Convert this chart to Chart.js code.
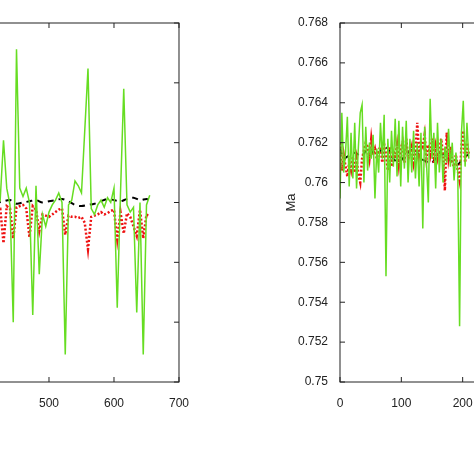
<!DOCTYPE html><html><head><script src="https://cdn.jsdelivr.net/npm/chart.js@4"></script>
<style>body{margin:0;width:474px;height:474px;overflow:hidden;background:#fff;position:relative}canvas{position:absolute}</style></head><body>
<div id="l" style="position:absolute;left:-56px;top:0;width:251px;height:420px"><canvas id="c1"></canvas></div>
<div id="r" style="position:absolute;left:280px;top:0;width:260px;height:420px"><canvas id="c2"></canvas></div>
<script>
const leftGreenX=[400,405,410,415,420,425,430,435,440,445,450,455,460,465,470,475,480,485,490,495,500,505,510,515,520,525,530,535,540,545,550,555,560,565,570,575,580,585,590,595,600,605,610,615,620,625,630,635,640,645,650,655];
const leftGreen=[0.7608,0.7602,0.7615,0.7598,0.7610,0.7603,0.7652,0.7612,0.7598,0.7500,0.7728,0.7612,0.7605,0.7612,0.7600,0.7506,0.7614,0.7540,0.7590,0.7580,0.7592,0.7598,0.7602,0.7608,0.7600,0.7473,0.7598,0.7602,0.7618,0.7614,0.7608,0.7660,0.7712,0.7595,0.7590,0.7598,0.7602,0.7596,0.7604,0.7600,0.7612,0.7512,0.7608,0.7695,0.7598,0.7592,0.7596,0.7508,0.7600,0.7473,0.7598,0.7606];
const leftRed=[0.7596,0.7594,0.7597,0.7570,0.7596,0.7595,0.7566,0.7597,0.7595,0.7570,0.7596,0.7597,0.7598,0.7595,0.7571,0.7597,0.7594,0.7576,0.7590,0.7589,0.7588,0.7590,0.7592,0.7594,0.7595,0.7573,0.7589,0.7588,0.7588,0.7587,0.7588,0.7583,0.7561,0.7588,0.7589,0.7590,0.7592,0.7590,0.7591,0.7593,0.7594,0.7569,0.7592,0.7574,0.7591,0.7588,0.7580,0.7572,0.7594,0.7570,0.7590,0.7588];
const leftBlackX=[400,410,420,430,440,450,460,470,480,490,500,510,520,530,540,550,560,570,580,590,600,610,620,630,640,650,655];
const leftBlack=[0.7602,0.7601,0.7600,0.7601,0.7602,0.7599,0.7600,0.7601,0.7602,0.7600,0.7601,0.7602,0.7603,0.7601,0.7598,0.7597,0.7598,0.7599,0.7601,0.7603,0.7602,0.7601,0.7603,0.7604,0.7602,0.7603,0.7602];
const rightX=[0,3,6,9,12,15,18,21,24,27,30,33,36,39,42,45,48,51,54,57,60,63,66,69,72,75,78,81,84,87,90,93,96,99,102,105,108,111,114,117,120,123,126,129,132,135,138,141,144,147,150,153,156,159,162,165,168,171,174,177,180,183,186,189,192,195,198,201,204,207,210];
const rightGreen=[0.7592,0.7635,0.7605,0.7615,0.7633,0.7598,0.7625,0.7602,0.7630,0.7597,0.7618,0.7635,0.7639,0.7600,0.7628,0.7606,0.7620,0.7612,0.7624,0.7592,0.7617,0.7605,0.7630,0.7612,0.7634,0.7553,0.7622,0.7600,0.7626,0.7608,0.7632,0.7603,0.7631,0.7598,0.7628,0.7607,0.7631,0.7600,0.7622,0.7605,0.7626,0.7602,0.7620,0.7598,0.7625,0.7577,0.7628,0.7610,0.7590,0.7642,0.7612,0.7625,0.7597,0.7630,0.7605,0.7622,0.7600,0.7618,0.7610,0.7627,0.7608,0.7620,0.7601,0.7615,0.7605,0.7528,0.7625,0.7641,0.7608,0.7630,0.7612];
const rightRed=[0.7620,0.7606,0.7614,0.7608,0.7603,0.7610,0.7606,0.7613,0.7605,0.7612,0.7604,0.7600,0.7612,0.7616,0.7620,0.7618,0.7612,0.7622,0.7614,0.7617,0.7612,0.7616,0.7618,0.7610,0.7619,0.7614,0.7606,0.7618,0.7608,0.7616,0.7612,0.7619,0.7609,0.7617,0.7620,0.7610,0.7622,0.7612,0.7614,0.7618,0.7610,0.7616,0.7630,0.7614,0.7620,0.7618,0.7624,0.7612,0.7619,0.7614,0.7622,0.7610,0.7618,0.7612,0.7616,0.7622,0.7614,0.7596,0.7625,0.7612,0.7618,0.7610,0.7608,0.7614,0.7606,0.7601,0.7618,0.7626,0.7610,0.7620,0.7614];
const rightBlackX=[0,6,12,18,24,30,36,42,48,54,60,66,72,78,84,90,96,102,108,114,120,126,132,138,144,150,156,162,168,174,180,186,192,198,204,210];
const rightBlack=[0.7617,0.7612,0.7613,0.7614,0.7615,0.7614,0.7613,0.7616,0.7617,0.7615,0.7614,0.7616,0.7618,0.7617,0.7613,0.7611,0.7610,0.7612,0.7614,0.7616,0.7617,0.7615,0.7612,0.7611,0.7610,0.7610,0.7612,0.7615,0.7614,0.7613,0.7611,0.7610,0.7609,0.7611,0.7613,0.7614];
const leftXTicks=[400,500,600,700];
const rightYTicks=[0.75,0.752,0.754,0.756,0.758,0.76,0.762,0.764,0.766,0.768];
const pts=(xs,ys)=>xs.map((x,i)=>({x,y:ys[i]}));
const frame={id:'frame',afterDraw(c){const a=c.chartArea,g=c.ctx;g.save();g.strokeStyle='#222';g.lineWidth=1;g.strokeRect(a.left,a.top,a.right-a.left,a.bottom-a.top);
 const xs=c.scales.x,ys=c.scales.y;g.beginPath();
 xs.ticks.forEach(t=>{const p=xs.getPixelForValue(t.value);g.moveTo(p,a.bottom);g.lineTo(p,a.bottom-5);g.moveTo(p,a.top);g.lineTo(p,a.top+5);});
 ys.ticks.forEach(t=>{const p=ys.getPixelForValue(t.value);g.moveTo(a.left,p);g.lineTo(a.left+5,p);g.moveTo(a.right,p);g.lineTo(a.right-5,p);});
 g.stroke();g.restore();}};
function ds(g,r,b){return [
 {data:g,borderColor:'#66dd22',borderWidth:1.5,pointRadius:0,tension:0},
 {data:r,borderColor:'#ee1111',borderWidth:2.5,borderDash:[2,2],pointRadius:0,tension:0},
 {data:b,borderColor:'#000',borderWidth:2,borderDash:[6,5],pointRadius:0,tension:0.3}];}
const font={family:'Liberation Sans',size:12};
new Chart(c1,{type:'line',data:{datasets:ds(pts(leftGreenX,leftGreen),pts(leftGreenX,leftRed),pts(leftBlackX,leftBlack))},
 options:{responsive:true,maintainAspectRatio:false,animation:false,layout:{padding:{top:23,right:5}},plugins:{legend:{display:false},tooltip:{enabled:false}},
 scales:{x:{type:'linear',min:400,max:700,afterBuildTicks:s=>{s.ticks=leftXTicks.map(v=>({value:v}))},grid:{display:false},border:{display:false},ticks:{color:'#222',font,padding:6},afterFit:s=>{s.height=38}},
 y:{min:0.745,max:0.775,ticks:{stepSize:0.005,display:false},grid:{display:false},border:{display:false},afterFit:s=>{s.width=40}}}},plugins:[frame]});
new Chart(c2,{type:'line',data:{datasets:ds(pts(rightX,rightGreen),pts(rightX,rightRed),pts(rightBlackX,rightBlack))},
 options:{responsive:true,maintainAspectRatio:false,animation:false,layout:{padding:{top:23,right:0}},plugins:{legend:{display:false},tooltip:{enabled:false}},
 scales:{x:{type:'linear',min:0,max:300,ticks:{stepSize:100,color:'#222',font,padding:6},grid:{display:false},border:{display:false},afterFit:s=>{s.height=38}},
 y:{min:0.75,max:0.768,afterBuildTicks:s=>{s.ticks=rightYTicks.map(v=>({value:v}))},ticks:{color:'#222',font,padding:4,callback:v=>String(+v.toFixed(3))},grid:{display:false},border:{display:false},title:{display:true,text:'Ma',color:'#222',font:{family:'Liberation Sans',size:13}},afterFit:s=>{s.width=60}}}},plugins:[frame]});
</script></body></html>
